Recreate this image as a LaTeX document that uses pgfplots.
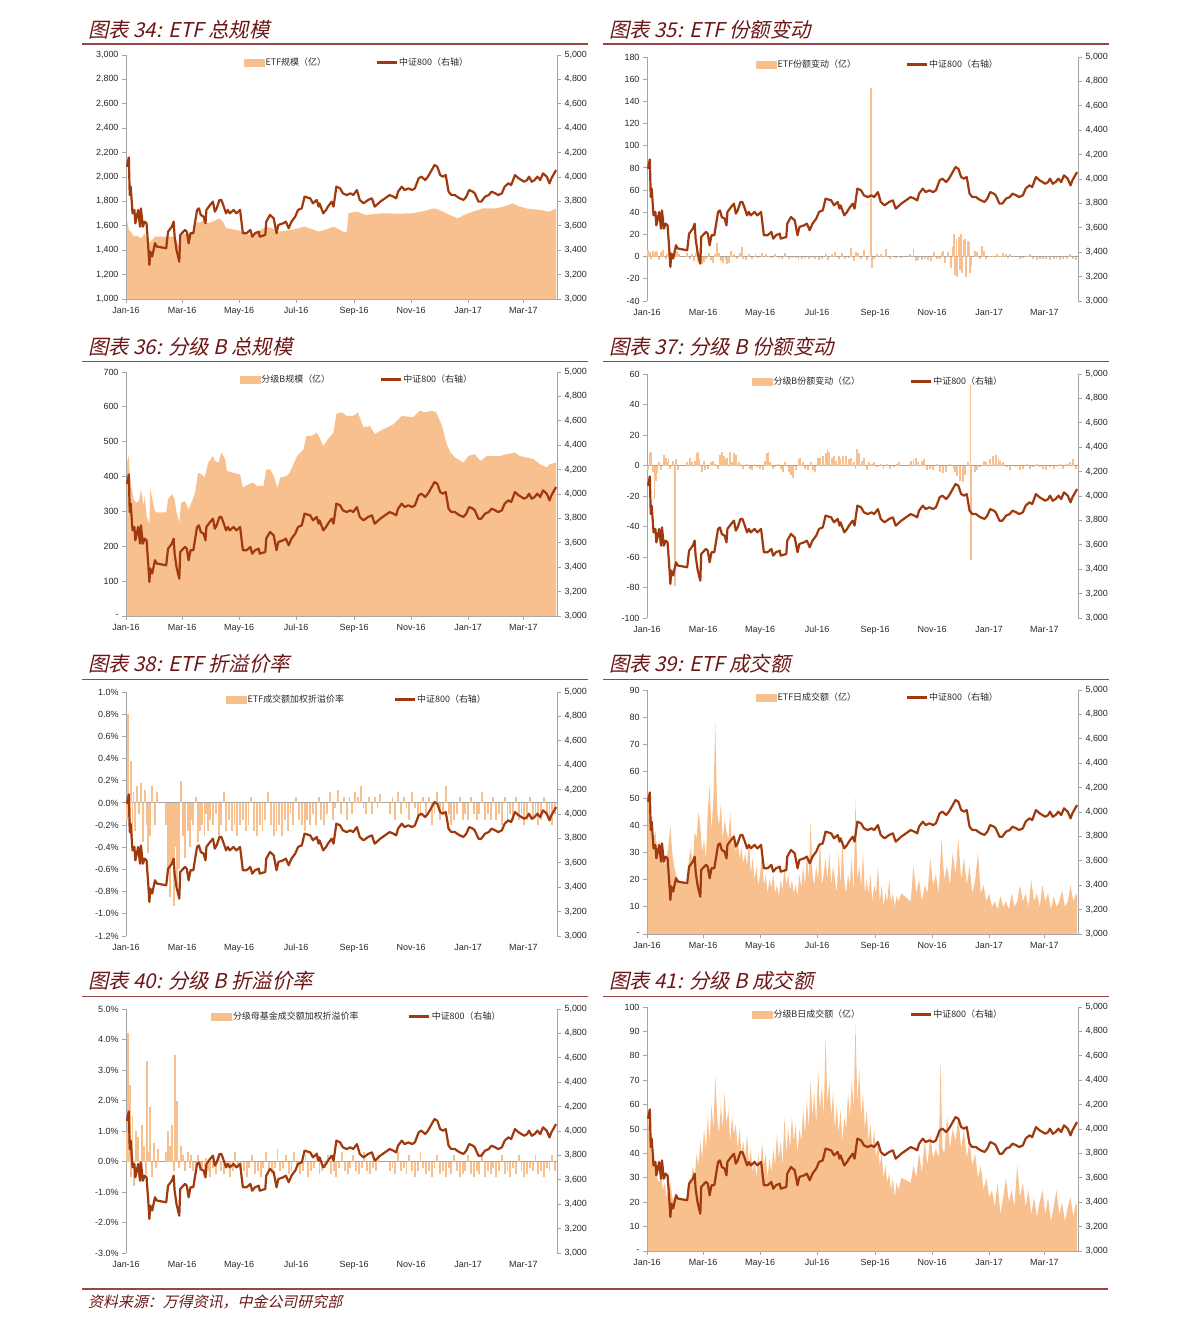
\documentclass[border=0pt]{standalone}
\usepackage{pgfplots}
\pgfplotsset{compat=1.18}
\usepackage{pgfplotstable}
\usepackage{fontspec}
\setmainfont{Liberation Sans}
\newfontfamily\cjk{Noto Sans CJK SC}
\newfontfamily\cjkslant[FakeSlant=0.22]{Noto Sans CJK SC}

\definecolor{areac}{RGB}{248,192,142}
\definecolor{linec}{RGB}{160,58,14}
\definecolor{titlec}{RGB}{110,22,22}
\definecolor{rulec}{RGB}{150,70,70}
\definecolor{axisc}{RGB}{165,165,165}
\definecolor{labc}{RGB}{40,40,40}

% x = days since 2016-01-01
\pgfplotstableread{
day val
1 4084
3 4161
4 3852
5 3921
7 3702
9 3730
10 3620
13 3730
15 3593
16 3743
18 3593
20 3634
22 3620
24 3402
25 3279
26 3389
28 3348
31 3457
33 3430
43 3416
45 3552
49 3593
51 3634
52 3511
54 3402
57 3306
58 3525
63 3566
65 3552
67 3457
69 3539
72 3539
76 3730
78 3743
80 3689
83 3675
85 3620
86 3730
90 3771
93 3798
95 3716
97 3743
100 3812
102 3812
104 3771
107 3702
109 3730
111 3702
115 3730
118 3702
122 3730
125 3539
129 3539
133 3566
135 3511
138 3539
142 3552
143 3511
149 3525
150 3634
154 3689
158 3661
161 3539
163 3607
168 3620
171 3634
174 3580
177 3634
181 3675
184 3730
188 3743
191 3839
197 3825
200 3784
204 3812
206 3757
207 3784
211 3702
214 3730
216 3757
220 3798
222 3757
225 3921
229 3907
232 3866
236 3852
240 3866
243 3852
247 3893
250 3812
254 3784
259 3812
263 3825
266 3757
270 3784
272 3798
282 3852
286 3839
289 3825
291 3880
295 3921
298 3893
302 3907
306 3893
309 3907
313 3989
316 4003
320 3975
323 4003
327 4057
330 4098
333 4084
336 4016
339 4003
342 4016
345 3880
348 3852
352 3852
354 3839
357 3825
361 3812
364 3839
367 3893
371 3880
373 3866
377 3798
380 3798
384 3839
388 3852
391 3880
395 3866
398 3852
402 3866
405 3921
409 3948
412 3934
416 4016
420 3989
423 3975
426 3961
429 3975
431 4003
434 3961
437 3975
440 4003
443 3975
446 4030
450 4003
453 3948
455 3989
458 4030
460 4057
}\csi

\pgfplotstableread{
day val
1 1648
3 1566
5 1552
7 1530
9 1511
11 1520
13 1511
16 1498
18 1515
20 1539
22 1500
24 1457
26 1470
28 1484
31 1511
52 1511
54 1484
57 1430
58 1525
61 1530
65 1539
69 1545
72 1552
76 1634
79 1625
83 1648
86 1620
90 1628
93 1634
97 1650
100 1661
104 1630
107 1580
112 1575
118 1566
122 1560
125 1539
130 1530
135 1525
142 1555
150 1593
156 1580
163 1552
170 1560
177 1566
184 1580
191 1593
198 1575
206 1552
214 1570
222 1593
228 1570
232 1552
236 1545
238 1702
242 1710
247 1716
252 1700
257 1689
264 1695
272 1702
290 1700
306 1702
318 1720
330 1743
338 1720
346 1689
355 1661
362 1690
371 1716
382 1743
396 1743
405 1760
414 1784
420 1760
428 1743
436 1735
443 1730
453 1716
460 1743
}\etfsize

\pgfplotstableread{
day val
1 6
3 4
4 -2
6 5
8 3
10 5
11 4
13 -3
15 4
17 6
20 -2
21 2
23 5
26 -5
28 3
30 3
32 5
34 2
43 3
46 -2
48 2
50 -4
52 3
54 -5
56 -6
59 -7
61 -5
63 -2
66 3
68 -3
71 -6
73 2
75 12
77 3
79 -4
81 -6
84 -3
86 -7
88 -6
90 5
93 2
96 -2
99 3
102 9
103 -2
106 -3
109 2
112 -2
116 2
119 -1
123 3
127 2
130 1
134 -1
137 2
141 -1
144 -2
148 3
152 -2
155 -1
159 -1
162 -3
166 -2
169 -1
173 -2
177 -1
180 -2
184 -3
187 -2
191 2
194 -3
198 2
201 4
205 -2
209 3
212 -2
216 -1
218 8
221 -4
224 4
226 3
229 -2
232 6
235 -3
238 1
240 152
241 -10
243 -2
246 2
250 2
253 1
256 7
260 -2
262 1
266 -1
269 1
272 -1
281 2
285 7
288 -4
290 -3
294 -3
297 -2
301 -3
304 -4
307 4
310 -2
313 -2
315 3
317 5
319 -6
322 4
325 -10
327 9
328 20
329 -17
331 16
332 -18
334 18
335 -12
336 20
337 -15
339 15
340 16
341 -18
343 14
344 13
345 -15
347 -8
351 5
353 4
356 -2
358 10
360 5
363 -2
367 1
370 1
374 2
378 1
381 3
384 2
386 -1
388 2
392 1
399 -2
402 -1
406 1
410 2
413 -2
417 -3
420 -2
424 -2
427 -2
431 -3
435 -2
438 -2
442 -3
445 -2
449 -2
452 2
456 -2
459 -3
}\etfshare

\pgfplotstableread{
day val
1 440
3 459
4 402
8 335
11 325
14 330
16 363
19 316
20 345
22 287
25 263
26 366
28 335
31 301
33 297
43 297
45 335
49 350
52 335
54 297
57 268
59 325
63 330
67 306
70 325
74 354
77 411
81 406
84 397
88 440
93 459
95 445
99 440
102 469
106 450
108 416
115 411
122 406
125 368
131 378
136 383
140 373
147 373
150 421
154 421
158 402
162 368
165 397
172 402
175 411
183 459
190 478
193 517
199 517
204 526
207 512
211 488
216 507
222 526
225 580
231 584
236 574
243 574
248 584
254 541
261 545
266 522
272 531
286 550
295 574
307 570
314 589
320 584
327 589
332 584
338 545
343 493
347 469
352 455
361 440
366 459
373 464
379 445
386 459
400 459
407 464
416 469
421 459
436 450
443 435
450 426
453 435
460 440
}\fbsize

\pgfplotstableread{
day val
1 -3
3 8
4 9
6 -4
8 -22
10 -10
11 -5
13 2
15 -3
18 7
20 5
21 2
23 4
25 -2
28 3
30 -79
31 4
33 -3
43 2
46 5
48 2
51 3
53 8
55 9
56 4
59 -4
61 3
62 -3
65 -2
68 2
71 3
73 1
76 -2
78 7
80 9
82 6
84 4
86 5
89 9
91 2
93 8
95 7
98 2
100 1
103 -2
107 1
110 -2
112 -3
115 1
118 -1
121 -2
124 -3
126 3
128 8
130 9
132 2
135 -2
137 -1
140 1
143 -2
145 -4
148 2
152 -4
154 -6
156 -8
159 -3
162 4
164 5
167 2
169 -2
172 -3
175 2
178 -3
180 -4
183 5
185 5
188 6
191 8
193 11
195 9
198 5
200 6
202 3
205 6
207 4
210 6
213 6
216 4
218 5
221 2
223 -2
225 11
227 8
230 3
232 5
235 -3
237 2
241 1
243 2
246 -1
250 1
253 -2
257 1
260 -2
264 -1
267 1
270 2
281 1
282 3
285 4
288 5
290 2
294 3
296 4
299 -3
303 -2
306 -3
310 1
313 -4
317 -5
320 -4
324 1
328 -2
329 -4
332 -7
335 -10
338 -11
340 -6
343 2
346 53
347 -62
351 -4
353 -3
356 -1
360 3
363 2
367 4
370 6
373 7
376 5
378 3
381 2
385 -1
388 -3
395 -1
399 -3
402 -2
406 1
410 -2
413 -1
417 1
420 -1
424 -2
427 -3
431 -1
435 -2
438 -1
442 1
445 -2
449 1
452 2
456 4
459 -2
}\fbshare

\pgfplotstableread{
day val
1 -0.15
2 0.80
4 -0.20
5 0.38
7 -0.30
8 0.10
10 -0.25
12 0.15
14 -0.10
16 0.18
18 -0.35
20 0.12
22 -0.20
24 -0.45
26 -0.30
28 0.15
31 -0.20
33 0.10
43 -0.20
45 -0.65
47 -0.85
49 -0.55
51 -0.93
53 -0.40
55 -0.75
57 -0.60
59 0.20
61 -0.30
63 -0.50
66 -0.25
68 -0.40
70 -0.15
72 -0.20
75 0.05
77 -0.35
79 -0.25
81 -0.20
84 -0.30
86 -0.10
88 -0.25
90 -0.15
93 -0.20
96 -0.10
99 -0.30
102 -0.20
105 0.10
107 -0.25
110 -0.15
113 -0.25
116 -0.20
119 -0.30
122 -0.20
125 -0.15
128 -0.25
131 -0.20
134 0.05
137 -0.25
140 -0.30
143 -0.20
146 -0.25
149 -0.15
152 0.10
155 -0.20
158 -0.30
161 -0.25
164 -0.20
167 -0.30
170 -0.15
173 -0.25
176 -0.10
179 -0.20
182 0.05
185 -0.15
188 -0.20
191 -0.25
194 -0.15
197 -0.20
200 -0.10
203 -0.20
206 0.05
209 -0.15
212 -0.20
215 -0.10
218 0.10
221 -0.15
224 -0.05
227 0.12
230 -0.10
233 0.05
236 -0.15
239 0.05
242 -0.10
245 0.10
248 0.05
251 0.15
254 -0.05
257 -0.10
260 0.05
263 -0.10
266 0.05
269 -0.05
272 0.08
282 -0.10
285 0.05
288 -0.15
291 0.10
294 -0.10
297 0.05
300 -0.05
303 -0.15
306 0.10
309 -0.05
312 -0.15
315 -0.10
318 0.05
321 -0.10
324 0.05
327 -0.20
330 -0.10
333 0.10
336 -0.15
339 -0.10
342 0.15
345 -0.10
348 -0.20
351 -0.15
354 -0.10
357 0.05
360 -0.15
363 -0.10
366 -0.15
369 0.05
372 -0.10
375 -0.15
378 -0.10
381 0.10
384 -0.15
387 -0.10
390 -0.15
393 0.05
396 -0.15
399 -0.10
402 -0.20
405 0.05
408 -0.15
411 -0.10
414 -0.15
417 0.05
420 -0.15
423 -0.10
426 -0.20
429 -0.15
432 0.05
435 -0.15
438 -0.10
441 -0.20
444 -0.15
447 0.05
450 -0.10
453 -0.15
456 -0.20
459 -0.10
}\etfprem

\pgfplotstableread{
day val
1 48
3 52
5 42
7 35
9 38
11 30
13 35
15 28
17 32
19 25
21 28
23 33
25 40
27 30
29 25
31 22
33 20
43 18
45 28
47 32
49 25
51 38
53 35
55 45
57 40
59 30
61 35
63 28
65 45
67 55
69 38
71 50
73 78
75 45
77 40
79 48
81 35
83 42
85 38
87 35
89 45
91 32
93 38
95 30
97 35
99 28
101 32
103 26
105 30
107 25
109 35
111 22
113 28
115 20
117 25
119 18
121 22
123 30
125 18
127 22
129 15
131 20
133 17
135 22
137 15
139 18
141 14
143 20
145 16
147 25
149 18
151 22
153 16
155 20
157 15
159 18
161 14
163 22
165 17
167 25
169 18
171 30
173 20
175 42
177 22
179 18
181 25
183 20
185 35
187 18
189 22
191 28
193 20
195 30
197 18
199 25
201 20
203 15
205 30
207 18
209 35
211 20
213 15
215 22
217 18
219 28
221 15
223 50
225 20
227 25
229 18
231 30
233 15
235 20
237 15
239 22
241 12
243 18
245 15
247 25
249 12
251 18
253 10
255 15
257 12
259 20
261 12
263 15
265 10
267 14
269 12
272 15
282 12
285 25
288 15
291 20
294 12
297 18
300 15
303 28
306 18
309 22
312 15
315 35
318 20
321 25
324 18
327 30
330 22
333 35
336 20
339 28
342 18
345 25
348 15
351 20
354 30
357 15
360 18
363 12
366 15
369 10
372 12
375 9
378 14
381 10
384 12
387 9
390 15
393 10
396 12
399 18
402 12
405 15
408 10
411 20
414 12
417 15
420 10
423 18
426 12
429 15
432 9
435 14
438 10
441 12
444 16
447 10
450 12
453 18
456 12
459 15
460 14
}\etfturn

\pgfplotstableread{
day val
1 1.0
2 4.2
4 2.5
5 -0.5
7 1.5
9 -0.8
11 1.0
13 0.8
15 -0.3
17 1.2
19 0.5
21 -0.4
22 3.3
24 0.3
26 1.8
28 -0.5
30 0.6
32 -0.2
34 0.4
43 0.3
45 1.0
47 0.5
49 1.2
51 -0.3
52 3.5
54 0.8
55 2.0
57 -0.2
59 0.5
61 0.2
63 -0.3
66 0.3
68 -0.2
70 0.2
72 -0.3
75 -0.4
77 0.2
79 -0.3
81 -0.2
84 -0.4
86 0.1
88 -0.3
90 -0.5
93 -0.2
96 -0.4
99 0.2
102 -0.3
105 -0.4
108 -0.2
111 -0.5
114 -0.3
117 0.3
120 -0.2
123 -0.4
126 -0.3
129 -0.5
132 -0.2
135 0.2
138 -0.4
141 -0.3
144 -0.5
147 -0.2
150 0.3
153 -0.3
156 -0.4
159 -0.2
162 0.4
165 -0.3
168 -0.2
171 0.2
174 -0.4
177 -0.3
180 0.3
183 -0.2
186 -0.4
189 -0.3
192 0.2
195 -0.5
198 -0.3
201 -0.2
204 0.3
207 -0.4
210 -0.3
213 -0.2
216 0.2
219 -0.4
222 -0.3
225 -0.5
228 -0.2
231 0.3
234 -0.3
237 -0.4
240 -0.2
243 0.2
246 -0.3
249 -0.4
252 -0.2
255 0.3
258 -0.3
261 -0.4
264 -0.2
267 -0.3
270 0.2
282 -0.3
285 -0.2
288 -0.4
291 0.3
294 -0.3
297 -0.2
300 -0.4
303 0.2
306 -0.3
309 -0.5
312 -0.3
315 0.3
318 -0.2
321 -0.4
324 -0.3
327 -0.5
330 -0.2
333 0.2
336 -0.4
339 -0.3
342 -0.5
345 -0.2
348 -0.4
351 0.2
354 -0.3
357 -0.5
360 -0.4
363 -0.3
366 0.2
369 -0.4
372 -0.5
375 -0.3
378 -0.4
381 0.2
384 -0.5
387 -0.3
390 -0.4
393 -0.2
396 -0.5
399 -0.3
402 0.2
405 -0.4
408 -0.3
411 -0.5
414 -0.2
417 -0.4
420 0.2
423 -0.3
426 -0.5
429 -0.4
432 -0.2
435 -0.3
438 0.2
441 -0.4
444 -0.3
447 -0.5
450 -0.2
453 -0.3
456 0.2
459 -0.3
}\fbprem

\pgfplotstableread{
day val
1 55
3 48
5 38
7 42
9 32
11 30
13 28
15 32
17 25
19 28
21 22
23 25
25 28
27 22
29 20
31 24
33 22
43 20
45 30
47 28
49 35
51 30
53 40
55 35
57 45
59 38
61 50
63 42
65 55
67 45
69 60
71 50
73 72
75 55
77 48
79 60
81 50
83 65
85 52
87 58
89 45
91 55
93 48
95 52
97 42
99 50
101 40
103 45
105 38
107 48
109 35
111 42
113 32
115 38
117 30
119 40
121 32
123 45
125 35
127 40
129 30
131 38
133 32
135 42
137 35
139 48
141 38
143 45
145 35
147 55
149 40
151 50
153 42
155 55
157 45
159 52
161 40
163 50
165 45
167 58
169 48
171 62
173 50
175 70
177 55
179 65
181 52
183 75
185 58
187 68
189 55
191 88
193 60
195 70
197 55
199 65
201 50
203 60
205 48
207 58
209 45
211 55
213 50
215 65
217 55
219 70
221 58
223 93
225 60
227 75
229 55
231 65
233 50
235 58
237 45
239 52
241 42
243 50
245 38
247 45
249 35
251 40
253 30
255 35
257 28
259 32
261 25
263 30
265 22
267 28
269 25
272 30
282 28
285 35
288 30
291 40
294 32
297 45
300 35
303 48
306 38
309 42
312 38
314 78
316 42
318 40
321 55
324 42
327 50
330 45
333 55
336 42
339 50
342 38
345 45
348 35
351 40
354 30
357 35
360 25
363 30
366 22
369 25
372 18
375 28
378 15
381 22
384 30
387 20
390 25
393 18
396 35
399 22
402 28
405 18
408 25
411 15
414 22
417 14
420 20
423 25
426 15
429 22
432 12
435 18
438 25
441 15
444 20
447 12
450 18
453 22
456 14
459 20
460 18
}\fbturn

\pgfplotsset{
  panel/.style={
    scale only axis, width=431bp, height=244bp, xmin=0, xmax=461,
    anchor=south west,
    xtick={0,60,121,182,244,305,366,425},
    xticklabels={Jan-16,Mar-16,May-16,Jul-16,Sep-16,Nov-16,Jan-17,Mar-17},
    tick label style={font=\fontsize{9}{10}\selectfont, text=labc},
    xticklabel style={text height=7bp, text depth=2bp},
    axis line style={axisc, line width=0.9bp},
    tick style={axisc, line width=0.9bp},
    major tick length=4bp, tick align=outside,
    major grid style={axisc, line width=0.9bp},
  },
  leftpanel/.style={panel, axis y line*=left, axis x line*=bottom},
  barpanel/.style={leftpanel,
    x axis line style={draw=none}, xtick style={draw=none},
    extra y ticks={0}, extra y tick labels={},
    extra y tick style={grid=major}},
  rightpanel/.style={panel, axis y line*=right, axis x line=none,
    ymin=3000, ymax=5000, ytick={3000,3200,...,5000},
    yticklabels={{3,000},{3,200},{3,400},{3,600},{3,800},{4,000},{4,200},{4,400},{4,600},{4,800},{5,000}},
    legend columns=2,
    legend style={at={(0.535,0.995)}, anchor=north, draw=none, fill=none,
      inner sep=0bp, font=\cjk\fontsize{9}{10}\selectfont, text=labc,
      /tikz/every even column/.append style={column sep=48bp},
      nodes={inner sep=1.5bp}},
  },
  areaswatch/.style={legend image code/.code={\fill[areac] (0bp,-3.5bp) rectangle (20bp,3.5bp);}},
  csiline/.style={linec, line width=2.2bp, line join=round,
    legend image code/.code={\draw[linec, line width=2.2bp] (0bp,0bp) -- (20bp,0bp);}},
  bars/.style={ycomb, areac, line width=1.9bp},
}

% title + rule
\newcommand{\paneltitle}[3]{%
  \node[anchor=base west, inner sep=0pt, text=titlec,
        font=\cjkslant\fontsize{20.5}{21}\selectfont] at (#1bp,-#2bp) {#3};}
\newcommand{\panelrule}[2]{%
  \draw[rulec, line width=1.1bp] (#1bp,-#2bp) -- ++(506bp,0bp);}
% right-hand CSI 800 overlay with legend
\newcommand{\csiaxis}[3]{%
  \begin{axis}[rightpanel, at={(#1bp,-#2bp)}]
    \addlegendimage{areaswatch}
    \addlegendentry{#3}
    \addplot[csiline] table[x=day,y=val] {\csi};
    \addlegendentry{中证800（右轴）}
  \end{axis}}

\begin{document}
\begin{tikzpicture}
\useasboundingbox (0bp,0bp) rectangle (1191bp,-1330bp);

% ---------- row 1 ----------
\paneltitle{88}{37}{图表 34: ETF 总规模}
\panelrule{82}{44}
\paneltitle{609}{37}{图表 35: ETF 份额变动}
\panelrule{603}{44}

\begin{axis}[leftpanel, at={(126bp,-299bp)}, ymin=1000, ymax=3000,
  ytick={1000,1200,...,3000},
  yticklabels={{1,000},{1,200},{1,400},{1,600},{1,800},{2,000},{2,200},{2,400},{2,600},{2,800},{3,000}}]
  \addplot[fill=areac, draw=none] table[x=day,y=val] {\etfsize} \closedcycle;
\end{axis}
\csiaxis{126}{299}{ETF规模（亿）}

\begin{axis}[barpanel, at={(647bp,-301bp)}, ymin=-40, ymax=180,
  ytick={-40,-20,...,180},
  yticklabels={-40,-20,0,20,40,60,80,100,120,140,160,180}]
  \addplot[bars] table[x=day,y=val] {\etfshare};
\end{axis}
\csiaxis{647}{301}{ETF份额变动（亿）}

% ---------- row 2 ----------
\paneltitle{88}{354}{图表 36: 分级 B 总规模}
\panelrule{82}{361.5}
\paneltitle{609}{354}{图表 37: 分级 B 份额变动}
\panelrule{603}{361.5}

\begin{axis}[leftpanel, at={(126bp,-616bp)}, ymin=0, ymax=700,
  ytick={0,100,...,700}, yticklabels={{-},100,200,300,400,500,600,700}]
  \addplot[fill=areac, draw=none] table[x=day,y=val] {\fbsize} \closedcycle;
\end{axis}
\csiaxis{126}{616}{分级B规模（亿）}

\begin{axis}[barpanel, at={(647bp,-618bp)}, ymin=-100, ymax=60,
  ytick={-100,-80,...,60},
  yticklabels={-100,-80,-60,-40,-20,0,20,40,60}]
  \addplot[bars] table[x=day,y=val] {\fbshare};
\end{axis}
\csiaxis{647}{618}{分级B份额变动（亿）}

% ---------- row 3 ----------
\paneltitle{88}{671}{图表 38: ETF 折溢价率}
\panelrule{82}{679.5}
\paneltitle{609}{671}{图表 39: ETF 成交额}
\panelrule{603}{679.5}

\begin{axis}[barpanel, at={(126bp,-936bp)}, ymin=-1.2, ymax=1.0,
  ytick={-1.2,-1,-0.8,-0.6,-0.4,-0.2,0,0.2,0.4,0.6,0.8,1},
  yticklabels={-1.2\%,-1.0\%,-0.8\%,-0.6\%,-0.4\%,-0.2\%,0.0\%,0.2\%,0.4\%,0.6\%,0.8\%,1.0\%}]
  \addplot[bars] table[x=day,y=val] {\etfprem};
\end{axis}
\csiaxis{126}{936}{ETF成交额加权折溢价率}

\begin{axis}[leftpanel, at={(647bp,-934bp)}, ymin=0, ymax=90,
  ytick={0,10,...,90}, yticklabels={{-},10,20,30,40,50,60,70,80,90}]
  \addplot[fill=areac, draw=none] table[x=day,y=val] {\etfturn} \closedcycle;
\end{axis}
\csiaxis{647}{934}{ETF日成交额（亿）}

% ---------- row 4 ----------
\paneltitle{88}{988}{图表 40: 分级 B 折溢价率}
\panelrule{82}{996.5}
\paneltitle{609}{988}{图表 41: 分级 B 成交额}
\panelrule{603}{996.5}

\begin{axis}[barpanel, at={(126bp,-1253bp)}, ymin=-3, ymax=5,
  ytick={-3,-2,...,5},
  yticklabels={-3.0\%,-2.0\%,-1.0\%,0.0\%,1.0\%,2.0\%,3.0\%,4.0\%,5.0\%}]
  \addplot[bars] table[x=day,y=val] {\fbprem};
\end{axis}
\csiaxis{126}{1253}{分级母基金成交额加权折溢价率}

\begin{axis}[leftpanel, at={(647bp,-1251bp)}, ymin=0, ymax=100,
  ytick={0,10,...,100}, yticklabels={{-},10,20,30,40,50,60,70,80,90,100}]
  \addplot[fill=areac, draw=none] table[x=day,y=val] {\fbturn} \closedcycle;
\end{axis}
\csiaxis{647}{1251}{分级B日成交额（亿）}

% ---------- footer ----------
\draw[rulec, line width=1.1bp] (82bp,-1289bp) -- (1108bp,-1289bp);
\node[anchor=base west, inner sep=0pt, text=titlec,
      font=\cjkslant\fontsize{15}{16}\selectfont] at (88bp,-1307bp)
  {资料来源：万得资讯，中金公司研究部};
\end{tikzpicture}
\end{document}
